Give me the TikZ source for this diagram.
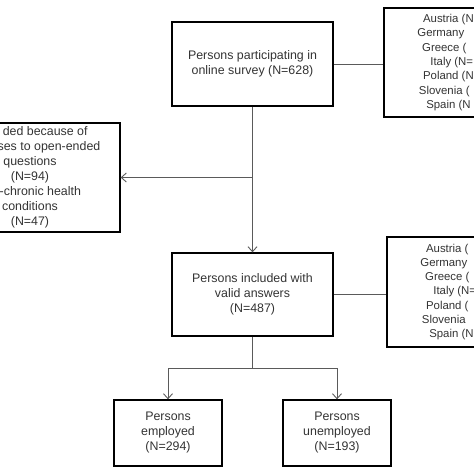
\documentclass[tikz,border=0pt]{standalone}
\usepackage{fontspec}
\setmainfont{Liberation Sans}
\usetikzlibrary{arrows.meta,positioning}
\definecolor{txtgray}{HTML}{333333}
\definecolor{linegray}{HTML}{5A5A5A}
\tikzset{
  box/.style={draw=black, line width=1.3pt, text=txtgray, align=center, inner sep=0pt, font=\fontsize{12.4}{15}\selectfont},
  cbox/.style={box, font=\fontsize{11.4}{14.3}\selectfont},
  conn/.style={draw=linegray, line width=0.9pt},
  arr/.style={conn, -{Straight Barb[length=5pt,width=9pt]}}
}

\begin{document}
\begin{tikzpicture}[x=1pt,y=-1pt]
\useasboundingbox (0,0) rectangle (474,474);
\node[box, minimum width=161pt, minimum height=84pt] (survey) at (252.5,64) {Persons participating in\\online survey (N=628)};
\node[cbox, minimum width=152pt, minimum height=109pt] (countriesA) at (460,62.5) {Austria (N\phantom{=00)}\\Germany\phantom{\ (N=00)}\\Greece (\phantom{N=00)}\\Italy (N=\phantom{00)}\\Poland (N\phantom{=00)}\\Slovenia (\phantom{N=00)}\\Spain (N\phantom{=00)}};
\node[box, minimum width=180pt, minimum height=109pt] (excluded) at (30,177.5) {\phantom{Exclu}ded because of\\\phantom{respo}nses to open-ended\\questions\\(N=94)\\\phantom{non}-chronic health\\conditions\\(N=47)};
\node[box, minimum width=161pt, minimum height=83pt] (valid) at (252.5,294.5) {Persons included with\\valid answers\\(N=487)};
\node[cbox, minimum width=152pt, minimum height=110pt] (countriesB) at (463,292) {Austria (\phantom{N=00)}\\Germany\phantom{\ (N=00)}\\Greece (\phantom{N=00)}\\Italy (N=\phantom{00)}\\Poland (\phantom{N=00)}\\Slovenia\phantom{\ (N=00)}\\Spain (N\phantom{=00)}};
\node[box, minimum width=108pt, minimum height=66pt] (employed) at (168,433) {Persons\\employed\\(N=294)};
\node[box, minimum width=108pt, minimum height=66pt] (unemployed) at (337,433) {Persons\\unemployed\\(N=193)};
\coordinate (split) at (252.5,368);
% connectors
\draw[conn] (survey.east) -- (survey.east -| countriesA.west);
\draw[conn] (valid.east) -- (valid.east -| countriesB.west);
\draw[arr] (survey.south) -- (valid.north);
\draw[arr] (survey.south |- excluded.east) -- (excluded.east);
\draw[conn] (valid.south) -- (split);
\draw[arr] (split) -| (employed.north);
\draw[arr] (split) -| (unemployed.north);
\end{tikzpicture}
\end{document}
